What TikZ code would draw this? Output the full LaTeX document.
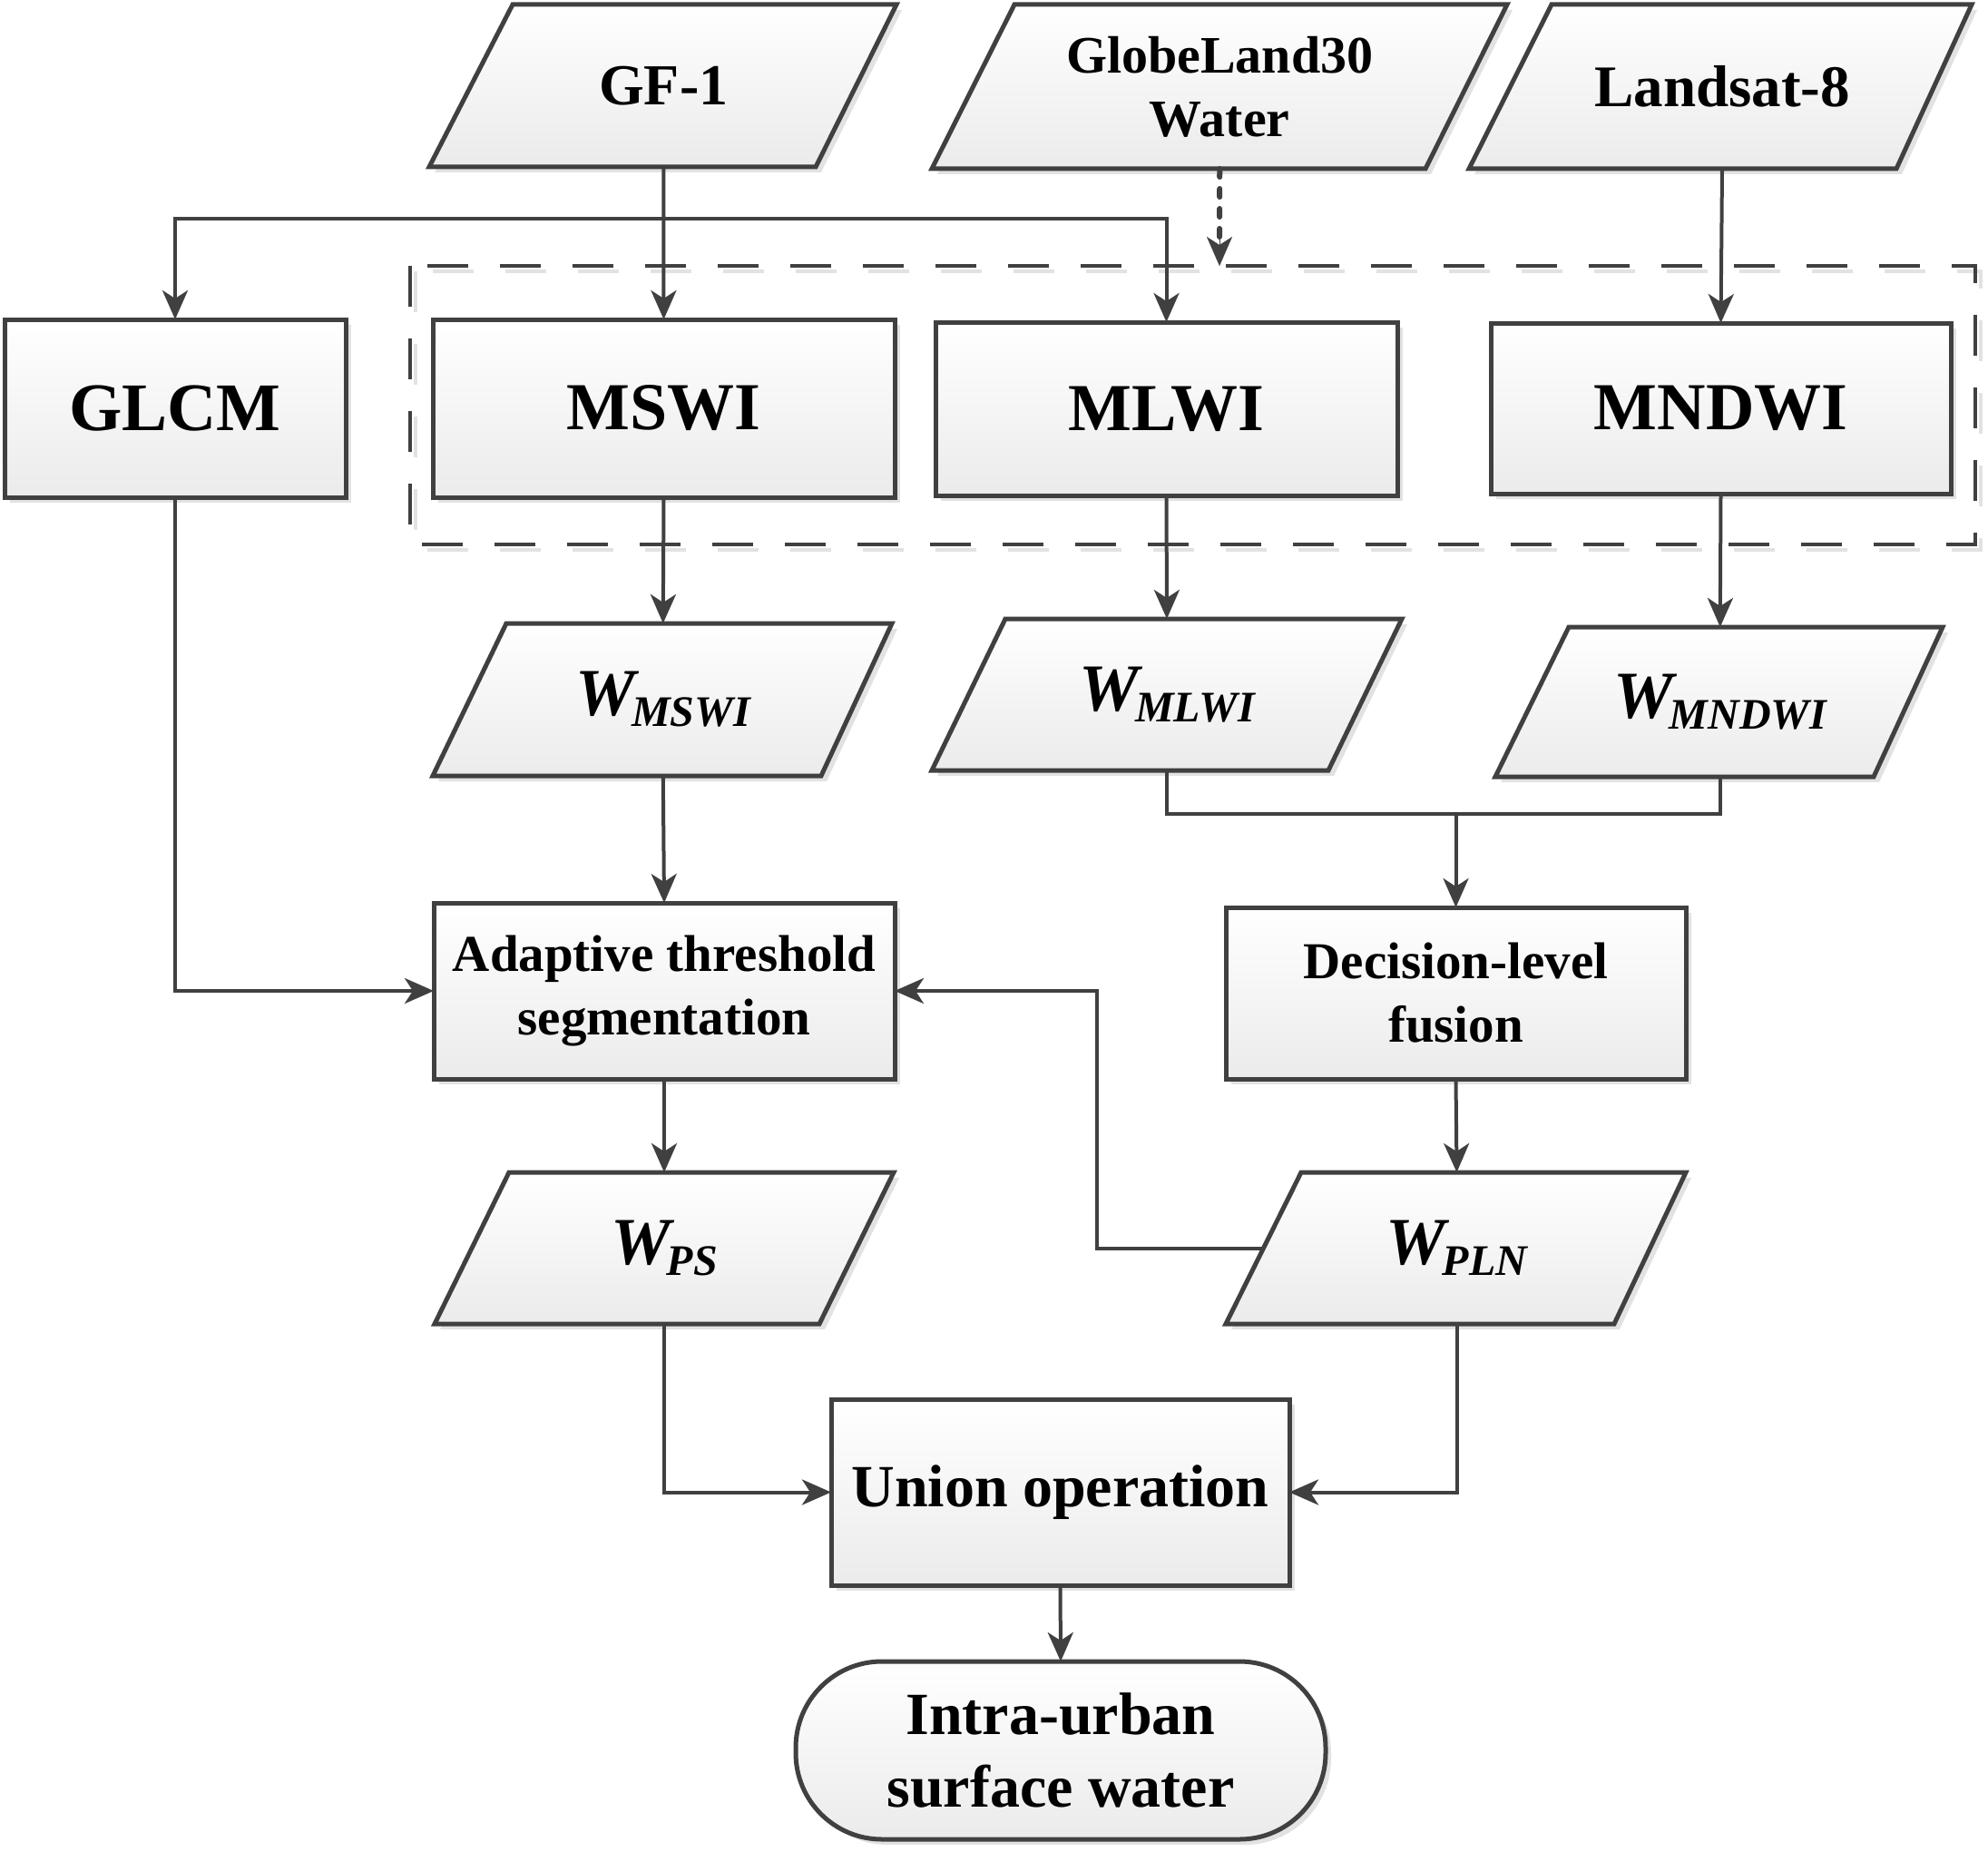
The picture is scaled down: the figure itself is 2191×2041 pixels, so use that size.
\documentclass[tikz,border=0pt]{standalone}
\usepackage{fontspec}
\setmainfont{Liberation Serif}
\usetikzlibrary{arrows.meta,shadows}
\definecolor{lc}{HTML}{404040}
\definecolor{fb}{HTML}{EBEBEB}
\definecolor{sh}{HTML}{E2E2E2}
\newcommand\fs[2]{\fontsize{#1}{#2}\selectfont}
\newcommand\Wsub[1]{{\fs{74}{74}\bfseries\itshape W\kern-4pt\raisebox{-12pt}{\fs{48}{48}#1}}}
\tikzset{
  shapebase/.style={draw=lc, line width=5pt, top color=white, bottom color=fb,
    drop shadow={shadow xshift=6pt, shadow yshift=-6pt, fill=sh, opacity=1}},
  box/.style={shapebase, rectangle, inner sep=0pt, outer sep=0pt, align=center, font=\bfseries},
  paratext/.style={draw=none, rectangle, inner sep=0pt, outer sep=0pt, align=center, font=\bfseries},
  wire/.style={draw=lc, line width=4pt},
  conn/.style={wire, -{Stealth[length=32pt,width=28pt,inset=9pt]}},
}
% [node options], name, top-left x, top-right x, bottom-left x, bottom-right x, top y, bottom y, text
\newcommand\parabox[9][]{%
  \path[shapebase] (#3,#7) -- (#4,#7) -- (#6,#8) -- (#5,#8) -- cycle;
  \pgfmathsetmacro\pcx{(#3+#4+#5+#6)/4}%
  \pgfmathsetmacro\pcy{(#7+#8)/2}%
  \pgfmathsetmacro\pw{(#4+#6-#3-#5)/2}%
  \pgfmathsetmacro\ph{#8-#7}%
  \node[paratext, minimum width=\pw pt, minimum height=\ph pt, #1] (#2) at (\pcx,\pcy) {#9};
}
\begin{document}
\begin{tikzpicture}[x=1pt,y=-1pt]
\useasboundingbox (0,0) rectangle (2191,2041);
\fill[white] (0,0) rectangle (2191,2041);

% dashed group box with its shadow
\draw[sh, line width=4pt, dash pattern=on 45pt off 35pt] (458,299) rectangle (2183,606);
\draw[lc, line width=4pt, dash pattern=on 45pt off 35pt] (452,293) rectangle (2177,600);

% input parallelograms
\parabox[font=\bfseries\fs{64}{70}]{gf1}{565}{988}{473}{899}{5}{184}{GF-1}
\parabox[font=\bfseries\fs{58}{70}]{globe}{1118}{1661}{1027}{1571}{5}{186}{GlobeLand30\\Water}
\parabox[font=\bfseries\fs{65}{70}]{landsat}{1710}{2173}{1619}{2090}{5}{186}{Landsat-8}

% index boxes
\node[box, minimum width=376pt, minimum height=196pt, font=\bfseries\fs{75}{80}] (glcm) at (193,450) {GLCM};
\node[box, minimum width=509pt, minimum height=196pt, font=\bfseries\fs{74}{80}] (mswi) at (731.5,450) {MSWI};
\node[box, minimum width=509pt, minimum height=191pt, font=\bfseries\fs{74}{80}] (mlwi) at (1285.5,450.5) {MLWI};
\node[box, minimum width=507pt, minimum height=188pt, font=\bfseries\fs{74}{80}] (mndwi) at (1896.5,450) {MNDWI};

% water maps
\parabox{wmswi}{558}{983}{477}{905}{687}{855}{\Wsub{MSWI}}
\parabox{wmlwi}{1108}{1545}{1027}{1464}{682}{849}{\Wsub{MLWI}}
\parabox{wmndwi}{1729}{2141}{1648}{2065}{691}{856}{\Wsub{MNDWI}}

% processing
\node[box, minimum width=508pt, minimum height=194pt, font=\bfseries\fs{57}{70}] (ats) at (732,1092) {Adaptive threshold\\segmentation};
\node[box, minimum width=507pt, minimum height=189pt, font=\bfseries\fs{57}{70}] (dec) at (1604.5,1094.5) {Decision-level\\fusion};

\parabox{wps}{561}{985}{479}{903}{1292}{1459}{\Wsub{PS}}
\parabox{wpln}{1434}{1858}{1351}{1779}{1292}{1459}{\Wsub{PLN}}

\node[box, minimum width=505pt, minimum height=205pt, font=\bfseries\fs{66}{80}] (union) at (1168.5,1644.5) {Union operation};
\node[box, rounded corners=95pt, minimum width=584pt, minimum height=196pt, font=\bfseries\fs{66}{80}] (term) at (1169,1929) {Intra-urban\\surface water};

% connectors
\coordinate (br) at (731,241);
\coordinate (dtip) at (1344,293);
\coordinate (mg) at (1604.5,897);
\coordinate (bend) at (1209,1092);

\draw[conn] (gf1.south) -- (mswi.north);
\draw[conn] (br) -| (glcm.north);
\draw[conn] (br) -| (mlwi.north);
\draw[lc, line width=6pt, line cap=round, dash pattern=on 9pt off 13pt] (globe.south) -- ([yshift=28pt]dtip);
\draw[conn, line width=0.1pt] ([yshift=30pt]dtip) -- (dtip);
\draw[conn] (landsat.south) -- (mndwi.north);

\draw[conn] (mswi.south) -- (wmswi.north);
\draw[conn] (mlwi.south) -- (wmlwi.north);
\draw[conn] (mndwi.south) -- (wmndwi.north);

\draw[wire] (wmlwi.south) |- (mg);
\draw[wire] (wmndwi.south) |- (mg);
\draw[conn] (mg) -- (dec.north);

\draw[conn] (wmswi.south) -- (ats.north);
\draw[conn] (glcm.south) |- (ats.west);
\draw[conn] (wpln.west) -| (bend) -- (ats.east);

\draw[conn] (ats.south) -- (wps.north);
\draw[conn] (dec.south) -- (wpln.north);

\draw[conn] (wps.south) |- (union.west);
\draw[conn] (wpln.south) |- (union.east);
\draw[conn] (union.south) -- (term.north);
\end{tikzpicture}
\end{document}
